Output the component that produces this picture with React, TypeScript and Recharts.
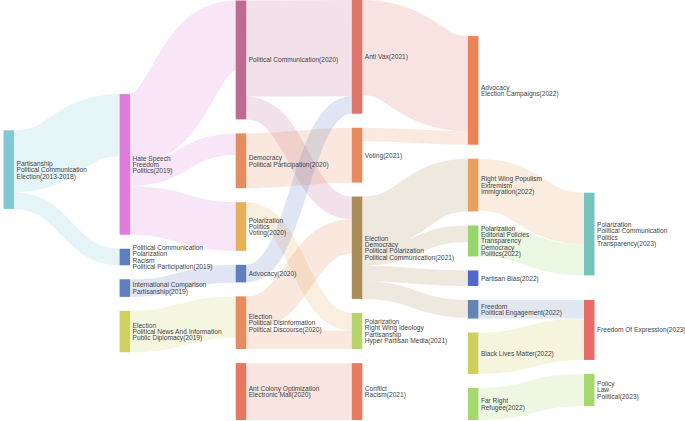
import React from 'react';
import { Sankey } from 'recharts';

// Nodes, column by column and top to bottom. An empty label marks an invisible
// helper node that only keeps a real node in its year column (or spaces a column).
const nodeIds = [
  'p2013', 'h_intl', 'h_en', 'h_ant0',
  'hate19', 'pcpr19', 'intl19', 'news19', 'h_ant1',
  'pc20', 'dem20', 'pol20', 'adv20', 'elec20', 'ant20',
  'vax21', 'vote21', 'elec21', 'pol21', 'conf21',
  'adv22', 'rwp22', 'edit22', 'bias22', 'free22', 'blm22', 'far22',
  'h_adv', 'pol23', 'foe23', 'law23', 'h_end',
];

const nodeLabels = [
  'Partisanship\nPolitical Communication\nElection(2013-2018)', '', '', '',
  'Hate Speech\nFreedom\nPolitics(2019)',
  'Political Communication\nPolarization\nRacism\nPolitical Participation(2019)',
  'International Comparison\nPartisanship(2019)',
  'Election\nPolitical News And Information\nPublic Diplomacy(2019)',
  '',
  'Political Communication(2020)',
  'Democracy\nPolitical Participation(2020)',
  'Polarization\nPolitics\nVoting(2020)',
  'Advocacy(2020)',
  'Election\nPolitical Disinformation\nPolitical Discourse(2020)',
  'Ant Colony Optimization\nElectronic Mail(2020)',
  'Anti Vax(2021)',
  'Voting(2021)',
  'Election\nDemocracy\nPolitical Polarization\nPolitical Communication(2021)',
  'Polarization\nRight Wing Ideology\nPartisanship\nHyper Partisan Media(2021)',
  'Conflict\nRacism(2021)',
  'Advocacy\nElection Campaigns(2022)',
  'Right Wing Populism\nExtremism\nImmigration(2022)',
  'Polarization\nEditorial Policies\nTransparency\nDemocracy\nPolitics(2022)',
  'Partisan Bias(2022)',
  'Freedom\nPolitical Engagement(2022)',
  'Black Lives Matter(2022)',
  'Far Right\nRefugee(2022)',
  '',
  'Polarization\nPolitical Communication\nPolitics\nTransparency(2023)',
  'Freedom Of Expression(2023)',
  'Policy\nLaw\nPolitical(2023)',
  '',
];

const nodeColors = [
  '#7fc9d6', 'none', 'none', 'none',
  '#e07bdb', '#5d7fbf', '#5d7fbf', '#cdd160', 'none',
  '#bf6a90', '#e88b5e', '#e6b05a', '#5e7fbf', '#e88b5e', '#e7775e',
  '#e07469', '#e98a5e', '#a88d5a', '#b6d46a', '#e87b5e',
  '#ec8355', '#e8a060', '#96d66e', '#5068cc', '#6585b5', '#cfcf5c', '#a4d96b',
  'none', '#75c5bd', '#e96a66', '#a7d86d', 'none',
];

// real flows
const linkFrom = [
  'p2013', 'p2013', 'hate19', 'hate19', 'hate19', 'intl19', 'news19',
  'pc20', 'pc20', 'dem20', 'pol20', 'adv20', 'elec20', 'elec20', 'ant20',
  'vax21', 'vote21', 'elec21', 'elec21', 'elec21', 'elec21',
  'rwp22', 'edit22', 'free22', 'blm22', 'far22',
];
const linkTo = [
  'hate19', 'pcpr19', 'pc20', 'dem20', 'pol20', 'adv20', 'elec20',
  'vax21', 'elec21', 'vote21', 'pol21', 'vax21', 'elec21', 'pol21', 'conf21',
  'adv22', 'adv22', 'rwp22', 'edit22', 'bias22', 'free22',
  'pol23', 'pol23', 'foe23', 'foe23', 'law23',
];
const linkValues = [
  60, 16, 68, 21, 47, 17, 40,
  93, 22, 53, 17, 17, 33, 18, 55,
  92, 13, 51, 16, 15, 17,
  50, 30, 18, 40, 31,
];

// helper flows, never drawn (h_ant0 -> h_ant1 also spaces the 2019 column)
const EPS = 0.001;
const helperFrom = ['h_intl', 'h_en', 'h_ant0', 'h_ant1', 'pcpr19', 'pol21', 'conf21', 'conf21', 'adv22', 'bias22', 'bias22', 'far22'];
const helperTo = ['intl19', 'news19', 'h_ant1', 'ant20', 'pc20', 'free22', 'blm22', 'far22', 'h_adv', 'pol23', 'foe23', 'h_end'];
const helperValues = [EPS, EPS, 52, EPS, EPS, EPS, 2 * EPS, EPS, EPS, 3 * EPS, 7 * EPS, EPS];

const idx = (id: string) => nodeIds.indexOf(id);

const data = {
  nodes: nodeIds.map((id, i) => ({ name: nodeLabels[i], color: nodeColors[i], hidden: nodeLabels[i] === '' })),
  links: [
    ...linkFrom.map((from, i) => ({ source: idx(from), target: idx(linkTo[i]), value: linkValues[i] })),
    ...helperFrom.map((from, i) => ({
      source: idx(from),
      target: idx(helperTo[i]),
      value: helperValues[i],
      hidden: true,
    })),
  ],
};

const FONT_SIZE = 6.6;
const LINE_HEIGHT = 6.4;

const SankeyNode = (props: any) => {
  const { x, y, width, height, payload } = props;
  if (payload.hidden) return <g />;
  const lines: string[] = payload.name.split('\n');
  const cy = y + height / 2;
  const firstY = cy - ((lines.length - 1) * LINE_HEIGHT) / 2;
  return (
    <g>
      <rect x={x} y={y} width={width} height={height} fill={payload.color} />
      <text
        x={x + width + 2.5}
        fontSize={FONT_SIZE}
        fill="#444"
        fontFamily="'Liberation Sans', Arial, sans-serif"
      >
        {lines.map((line, i) => (
          <tspan key={i} x={x + width + 2.5} y={firstY + i * LINE_HEIGHT} dominantBaseline="central">
            {line}
          </tspan>
        ))}
      </text>
    </g>
  );
};

const SankeyLink = (props: any) => {
  const { sourceX, targetX, sourceY, targetY, sourceControlX, targetControlX, linkWidth, payload } = props;
  if (payload.hidden) return <g />;
  return (
    <path
      d={`M${sourceX},${sourceY}C${sourceControlX},${sourceY} ${targetControlX},${targetY} ${targetX},${targetY}`}
      fill="none"
      stroke={payload.source.color}
      strokeOpacity={0.2}
      strokeWidth={linkWidth}
    />
  );
};

export default function App() {
  return (
    <div style={{ width: 685, height: 421, background: '#fff' }}>
      <style>{'body{margin:0}'}</style>
      <Sankey
        width={685}
        height={421}
        data={data}
        nodeWidth={10.5}
        nodePadding={14}
        linkCurvature={0.5}
        iterations={32}
        sort={false}
        margin={{ top: 0, right: 90.5, bottom: 1, left: 3.5 }}
        node={SankeyNode}
        link={SankeyLink}
      />
    </div>
  );
}
